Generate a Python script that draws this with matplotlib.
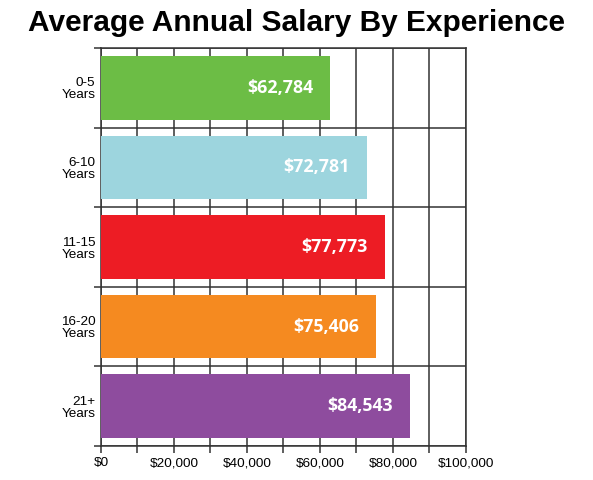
import matplotlib
matplotlib.use("Agg")
import matplotlib.pyplot as plt

# data
categories = ["0-5\nYears", "6-10\nYears", "11-15\nYears", "16-20\nYears", "21+\nYears"]
salaries = [62784, 72781, 77773, 75406, 84543]
value_labels = ["$62,784", "$72,781", "$77,773", "$75,406", "$84,543"]
bar_colors = ["#6cbd45", "#9dd5de", "#ed1c24", "#f58a20", "#8e4c9e"]
x_ticks = [0, 20000, 40000, 60000, 80000, 100000]
x_tick_labels = ["$0", "$20,000", "$40,000", "$60,000", "$80,000", "$100,000"]

plt.rcParams['font.family'] = ['Liberation Sans', 'DejaVu Sans']

fig = plt.figure(figsize=(5.93, 4.8), dpi=100)
ax = fig.add_axes([0.1703, 0.0708, 0.6155, 0.8292])

pos = list(range(len(categories)))
ax.barh(pos, salaries, height=0.8, color=bar_colors, zorder=3)

# white value labels inside the bars, near the end
for p, v, lab in zip(pos, salaries, value_labels):
    ax.text(v - 4700, p, lab, ha='right', va='center', color='white',
            fontsize=12.8, fontweight='bold', family=['Open Sans', 'DejaVu Sans'], zorder=4)

ax.set_xlim(0, 100000)
ax.set_ylim(len(categories) - 0.5, -0.5)

# vertical grid every 10,000, labels every 20,000
ax.set_xticks(x_ticks)
ax.set_xticks(range(10000, 100000, 20000), minor=True)
ax.set_xticklabels(x_tick_labels, fontsize=9.7)
ax.grid(True, axis='x', which='both', color='#333333', linewidth=1.1, zorder=0)

# horizontal lines between the categories
bounds = [p - 0.5 for p in pos] + [pos[-1] + 0.5]
for b in bounds:
    ax.axhline(b, color='#333333', linewidth=1.1, zorder=1)
ax.set_yticks(bounds, minor=True)
ax.set_yticks(pos)
ax.set_yticklabels(categories, fontsize=9.7, linespacing=1.0)
ax.tick_params(axis='y', which='major', length=0, pad=4)
ax.tick_params(axis='y', which='minor', length=5, width=1.1, color='#333333')
ax.tick_params(axis='x', which='both', length=5, width=1.1, color='#333333', pad=3)

for s in ax.spines.values():
    s.set_color('#333333')
    s.set_linewidth(1.1)

fig.text(0.4995, 0.952, "Average Annual Salary By Experience", ha='center', va='center',
         fontsize=21.5, fontweight='bold')

fig.savefig("out.png", dpi=100)
